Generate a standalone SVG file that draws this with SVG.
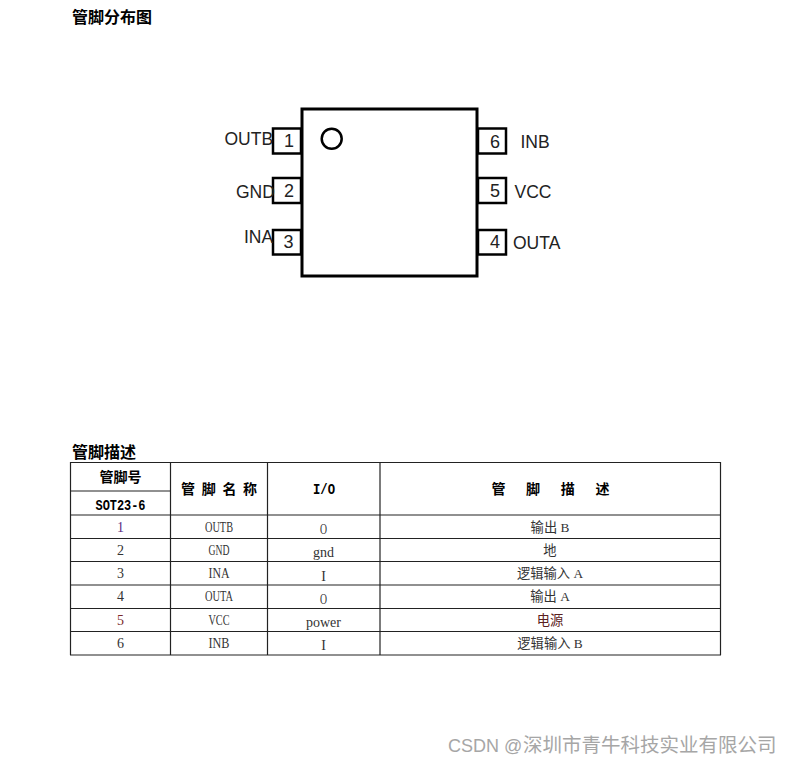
<svg xmlns="http://www.w3.org/2000/svg" width="792" height="764" viewBox="0 0 792 764">
<style>
.chip{fill:#fff;stroke:#000;stroke-width:3}
.pin{fill:#fff;stroke:#000;stroke-width:2.5}
.pl{font-family:"Liberation Sans",Arial,sans-serif;font-size:17.5px;fill:#222}
.pn{font-family:"Liberation Sans",Arial,sans-serif;font-size:18px;fill:#222;text-anchor:middle}
.h1{font-family:"Noto Sans CJK SC",sans-serif;font-size:16px;font-weight:700;fill:#000}
.th{font-family:"Noto Sans CJK SC",sans-serif;font-size:14px;font-weight:700;fill:#000}
.tb{font-family:"Liberation Mono",monospace;font-size:14px;font-weight:700;fill:#000;text-anchor:middle}
.td{font-family:"Liberation Serif",serif;font-size:14px;fill:#333;text-anchor:middle}
.cj{font-family:"Liberation Serif","Noto Sans CJK SC",serif;font-size:13.300px;fill:#333;text-anchor:middle}
.grid line{stroke:#222;stroke-width:1.2}
.wm{font-family:"Liberation Sans","Noto Sans CJK SC",sans-serif;font-size:18px;fill:#a6a6a6}
</style>
<rect width="792" height="764" fill="#fff"/>
<text class="h1" x="72" y="23">管脚分布图</text>
<g id="chip"><rect class="chip" x="302" y="109" width="175" height="167"/><circle cx="331.700" cy="138.700" r="10" fill="#fff" stroke="#000" stroke-width="2.500"/></g>
<g id="pin1"><rect class="pin" x="273" y="128.500" width="28" height="25"/><text class="pn" x="289" y="147">1</text><text class="pl" x="224.500" y="145">OUTB</text></g>
<g id="pin2"><rect class="pin" x="273" y="178" width="28" height="25"/><text class="pn" x="289" y="197">2</text><text class="pl" x="236" y="197.500">GND</text></g>
<g id="pin3"><rect class="pin" x="273" y="230" width="28" height="24.500"/><text class="pn" x="288.500" y="248">3</text><text class="pl" x="244" y="243">INA</text></g>
<g id="pin6"><rect class="pin" x="478" y="128.500" width="28" height="25"/><text class="pn" x="495" y="148">6</text><text class="pl" x="520.500" y="148">INB</text></g>
<g id="pin5"><rect class="pin" x="478" y="178" width="28" height="25"/><text class="pn" x="495" y="197">5</text><text class="pl" x="514.500" y="197.500">VCC</text></g>
<g id="pin4"><rect class="pin" x="478" y="230" width="28" height="24.500"/><text class="pn" x="495" y="248">4</text><text class="pl" x="513" y="248.500">OUTA</text></g>
<text class="h1" x="72" y="458">管脚描述</text>
<g id="table">
<g class="grid">
<line x1="70" y1="462.500" x2="721" y2="462.500"/><line x1="70" y1="491" x2="170.500" y2="491"/>
<line x1="70" y1="515" x2="721" y2="515"/><line x1="70" y1="538.500" x2="721" y2="538.500"/><line x1="70" y1="561.500" x2="721" y2="561.500"/><line x1="70" y1="585" x2="721" y2="585"/><line x1="70" y1="608.500" x2="721" y2="608.500"/><line x1="70" y1="631.500" x2="721" y2="631.500"/><line x1="70" y1="655" x2="721" y2="655"/>
<line x1="70.500" y1="462" x2="70.500" y2="655"/><line x1="170.500" y1="462" x2="170.500" y2="655"/><line x1="267.500" y1="462" x2="267.500" y2="655"/><line x1="380" y1="462" x2="380" y2="655"/><line x1="720.500" y1="462" x2="720.500" y2="655"/>
</g>
<text class="th" style="text-anchor:middle" x="120.500" y="482">管脚号</text>
<text class="tb" x="120.500" y="510" textLength="50" lengthAdjust="spacingAndGlyphs">SOT23-6</text>
<text class="th" x="181 201.700 222.400 243.100" y="494">管脚名称</text>
<text class="tb" x="324" y="494" textLength="22" lengthAdjust="spacingAndGlyphs">I/O</text>
<text class="th" x="491.500 526 560.700 595.400" y="494">管脚描述</text>
<text class="td" style="fill:#5b2c83" x="120.500" y="532">1</text><text class="td" x="219" y="532" textLength="28" lengthAdjust="spacingAndGlyphs">OUTB</text><text class="td" x="323.500" y="534" textLength="7" lengthAdjust="spacingAndGlyphs">O</text><text class="cj" x="550" y="532">输出 B</text>
<text class="td" x="120.500" y="555">2</text><text class="td" x="219" y="555" textLength="21" lengthAdjust="spacingAndGlyphs">GND</text><text class="td" x="323.500" y="557">gnd</text><text class="cj" x="550" y="555">地</text>
<text class="td" x="120.500" y="578">3</text><text class="td" x="219" y="578" textLength="21" lengthAdjust="spacingAndGlyphs">INA</text><text class="td" x="323.500" y="581">I</text><text class="cj" x="550" y="578">逻辑输入 A</text>
<text class="td" x="120.500" y="601">4</text><text class="td" x="219" y="601" textLength="28" lengthAdjust="spacingAndGlyphs">OUTA</text><text class="td" x="323.500" y="604" textLength="7" lengthAdjust="spacingAndGlyphs">O</text><text class="cj" x="550" y="601">输出 A</text>
<text class="td" style="fill:#7a2a2a" x="120.500" y="625">5</text><text class="td" x="219" y="625" textLength="21" lengthAdjust="spacingAndGlyphs">VCC</text><text class="td" x="323.500" y="627">power</text><text class="cj" style="fill:#5a2020" x="550" y="625">电源</text>
<text class="td" x="120.500" y="648">6</text><text class="td" x="219" y="648" textLength="21" lengthAdjust="spacingAndGlyphs">INB</text><text class="td" x="323.500" y="650">I</text><text class="cj" x="550" y="648">逻辑输入 B</text>
</g>
<text class="wm" x="448" y="751.500">CSDN @<tspan style="font-size:19.500px" x="523">深圳市青牛科技实业有限公司</tspan></text>
</svg>
